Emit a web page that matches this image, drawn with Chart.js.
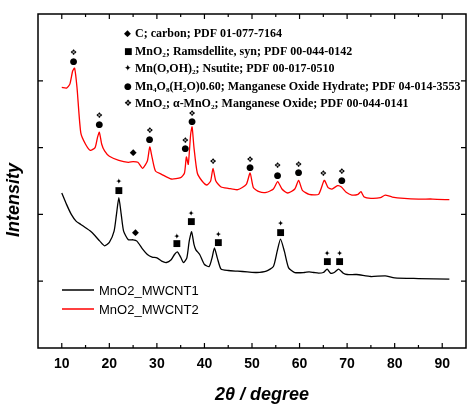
<!DOCTYPE html>
<html>
<head>
<meta charset="utf-8">
<script src="https://cdn.jsdelivr.net/npm/chart.js@4/dist/chart.umd.min.js"></script>
<style>
  html, body { margin: 0; padding: 0; background: #fff; }
  #wrap { width: 474px; height: 409px; }
</style>
</head>
<body>
<div id="wrap"><canvas id="xrd"></canvas></div>
<script>
// XRD patterns (2theta vs. relative intensity, arbitrary units)
const blackX = [10,11,12,13,14,15,16,17,18,19,20,21,21.5,22,22.5,23,24,25,25.8,27,28,29,30,31,32,33,33.7,34.3,35,35.6,36.3,36.8,37.3,37.8,38.2,39,40,41,41.6,42.1,42.7,43.5,45,47,49,51,53,54.5,55.3,56,56.8,57.7,59,61,62,63,64,65,65.8,66.5,67.3,68.2,69.2,70,72,75,78,80,85,91.5];
const blackY = [2.32,2.15,2.0,1.9,1.85,1.8,1.75,1.68,1.6,1.53,1.58,1.75,2.0,2.25,2.0,1.75,1.62,1.62,1.60,1.48,1.40,1.36,1.35,1.30,1.28,1.32,1.40,1.44,1.36,1.28,1.35,1.60,1.74,1.55,1.47,1.40,1.25,1.22,1.35,1.5,1.35,1.18,1.16,1.15,1.14,1.13,1.15,1.22,1.45,1.63,1.45,1.20,1.13,1.13,1.14,1.13,1.12,1.13,1.18,1.12,1.13,1.18,1.12,1.10,1.10,1.07,1.08,1.05,1.04,1.03];
const redX = [10,11,11.7,12.3,12.7,13.2,14,15,16,17,17.5,17.9,18.4,19,20,22,24,25,26,27,28,28.5,29,29.7,31,33,35,35.8,36.2,36.6,37.1,37.4,37.8,38.5,39.5,40.5,41.3,41.8,42.4,43.5,45,47,48.8,49.6,50.3,51.5,53,54.5,55.4,56.3,57.5,59,59.8,60.6,62,64,65.2,66,66.8,68,68.8,69.8,71,72.3,72.9,73.6,75,77,78,79.5,82,85,88,91.5];
const redY = [3.9,3.89,3.95,4.15,4.19,3.9,3.22,3.05,2.96,3.0,3.15,3.23,3.05,2.95,2.87,2.81,2.78,2.79,2.78,2.69,2.80,3.01,2.85,2.65,2.6,2.53,2.55,2.62,2.86,2.75,3.2,3.31,3.0,2.62,2.50,2.44,2.5,2.69,2.5,2.41,2.39,2.37,2.45,2.62,2.40,2.34,2.33,2.38,2.49,2.38,2.32,2.38,2.51,2.36,2.30,2.30,2.51,2.40,2.38,2.43,2.41,2.33,2.29,2.30,2.34,2.26,2.24,2.25,2.29,2.26,2.24,2.23,2.23,2.22];
const seriesNames = ['MnO2_MWCNT1', 'MnO2_MWCNT2'];
const xTicks = [10,20,30,40,50,60,70,80,90];

// phase markers: glyph, 2theta, height
const markGlyph = ['❖','●','❖','●','◆','❖','●','❖','●','❖','●','❖','❖','●','❖','●','❖','●','❖','❖','●',
                   '✦','■','◆','✦','■','✦','■','✦','■','✦','■','✦','■','✦','■'];
const markX = [12.5,12.5,17.9,17.9,25,28.5,28.5,36,36,37.4,37.4,41.8,49.6,49.6,55.4,55.4,59.8,59.8,65,68.9,68.9,
               22,22,25.5,34.2,34.2,37.2,37.2,42.9,42.9,56,56,65.8,65.8,68.4,68.4];
const markY = [4.41,4.28,3.47,3.35,2.92,3.25,3.12,3.10,2.98,3.51,3.39,2.78,2.82,2.70,2.72,2.58,2.74,2.62,2.60,2.64,2.51,
               2.49,2.35,1.72,1.66,1.56,2.0,1.89,1.70,1.57,1.86,1.72,1.41,1.29,1.41,1.29];

const phaseKey = [
  ['◆', 'C; carbon; PDF 01-077-7164'],
  ['■', 'MnO₂; Ramsdellite, syn; PDF 00-044-0142'],
  ['✦', 'Mn(O,OH)₂; Nsutite; PDF 00-017-0510'],
  ['●', 'Mn₄O₈(H₂O)0.60; Manganese Oxide Hydrate; PDF 04-014-3553'],
  ['❖', 'MnO₂; α-MnO₂; Manganese Oxide; PDF 00-044-0141']
];

const toPts = (xs, ys) => xs.map((x, i) => ({ x: x, y: ys[i] }));

const decor = {
  id: 'decor',
  afterDraw(chart) {
    const ctx = chart.ctx, a = chart.chartArea;
    const xs = chart.scales.x, ys = chart.scales.y;
    ctx.save();
    // frame
    ctx.strokeStyle = '#000'; ctx.lineWidth = 1.5;
    ctx.strokeRect(a.left, a.top, a.right - a.left, a.bottom - a.top);
    // inward ticks
    ctx.lineWidth = 1.2;
    for (let v = 10; v <= 90; v += 5) {
      const p = xs.getPixelForValue(v), len = v % 10 === 0 ? 5 : 3;
      ctx.beginPath();
      ctx.moveTo(p, a.bottom); ctx.lineTo(p, a.bottom - len);
      ctx.moveTo(p, a.top); ctx.lineTo(p, a.top + len);
      ctx.stroke();
    }
    for (let v = 1; v <= 4; v++) {
      const p = ys.getPixelForValue(v);
      ctx.beginPath();
      ctx.moveTo(a.left, p); ctx.lineTo(a.left + 5, p);
      ctx.moveTo(a.right, p); ctx.lineTo(a.right - 5, p);
      ctx.stroke();
    }
    // phase markers
    ctx.fillStyle = '#000'; ctx.textAlign = 'center'; ctx.textBaseline = 'middle';
    markGlyph.forEach((g, i) => {
      ctx.font = (g === '❖' || g === '✦' ? '8px' : '9px') + ' "DejaVu Sans"';
      ctx.fillText(g, xs.getPixelForValue(markX[i]), ys.getPixelForValue(markY[i]));
    });
    // phase key
    ctx.textAlign = 'left';
    phaseKey.forEach((row, i) => {
      const y = 34 + i * 17.5;
      ctx.font = '9px "DejaVu Sans"';
      ctx.fillText(row[0], 124, y);
      ctx.font = 'bold 12px "Liberation Serif"';
      ctx.fillText(row[1], 135, y);
    });
    // series key
    const colors = ['#000', '#ff0000'];
    ctx.font = '13px "Liberation Sans"';
    seriesNames.forEach((n, i) => {
      const y = 290 + i * 19;
      ctx.strokeStyle = colors[i]; ctx.lineWidth = 1.5;
      ctx.beginPath(); ctx.moveTo(62, y); ctx.lineTo(94, y); ctx.stroke();
      ctx.fillStyle = '#000';
      ctx.fillText(n, 99, y + 1);
    });
    // axis titles
    ctx.font = 'italic bold 18px "Liberation Sans"';
    ctx.textAlign = 'center';
    ctx.fillText('2θ / degree', (a.left + a.right) / 2 + 10, 395);
    ctx.translate(14, 200); ctx.rotate(-Math.PI / 2);
    ctx.fillText('Intensity', 0, 0);
    ctx.restore();
  }
};

new Chart(document.getElementById('xrd'), {
  type: 'line',
  data: {
    datasets: [
      { label: seriesNames[0], data: toPts(blackX, blackY), borderColor: '#000', borderWidth: 1.3, pointRadius: 0, tension: 0.2 },
      { label: seriesNames[1], data: toPts(redX, redY), borderColor: '#ff0000', borderWidth: 1.3, pointRadius: 0, tension: 0.2 }
    ]
  },
  options: {
    responsive: true, maintainAspectRatio: false, animation: false,
    layout: { padding: { top: 14, right: 8, left: 0, bottom: 0 } },
    plugins: { legend: { display: false }, tooltip: { enabled: false } },
    scales: {
      x: {
        type: 'linear', min: 5, max: 95,
        afterBuildTicks: s => { s.ticks = xTicks.map(v => ({ value: v })); },
        afterFit: s => { s.height = 61; },
        grid: { display: false, drawTicks: false }, border: { display: false },
        ticks: { color: '#000', padding: 8, maxRotation: 0, font: { family: 'Liberation Sans', size: 14, weight: 'bold' } }
      },
      y: {
        min: 0, max: 5,
        afterFit: s => { s.width = 38; },
        grid: { display: false }, border: { display: false },
        ticks: { display: false }
      }
    }
  },
  plugins: [decor]
});
</script>
</body>
</html>
